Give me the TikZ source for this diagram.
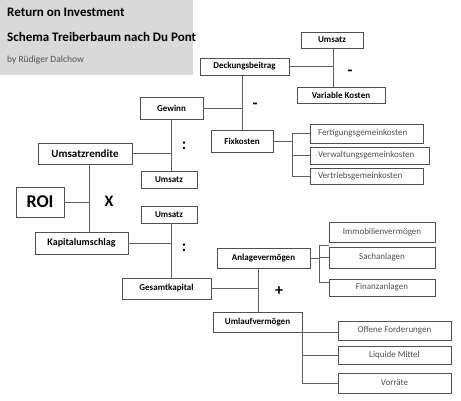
\documentclass[tikz,border=0pt]{standalone}
\usepackage{fontspec}
\setmainfont{Carlito}
\definecolor{boxline}{HTML}{505050}
\definecolor{conn}{HTML}{606060}
\definecolor{leaftext}{HTML}{505050}
\definecolor{titlebg}{HTML}{D9D9D9}
\begin{document}
\begin{tikzpicture}[x=1pt,y=-1pt,
  box/.style={draw=boxline,line width=0.7pt,fill=white,inner sep=0pt,font=\bfseries\fontsize{9}{10}\selectfont},
  bigbox/.style={box,font=\bfseries\fontsize{11}{13}\selectfont},
  leaf/.style={draw=boxline,line width=0.7pt,fill=white,inner sep=0pt,text=leaftext,font=\fontsize{9}{10}\selectfont},
  leafl/.style={leaf,inner xsep=8pt,align=left},
  op/.style={font=\bfseries\fontsize{16}{16}\selectfont,inner sep=0pt},
  con/.style={draw=conn,line width=0.7pt}]
\useasboundingbox (0,0) rectangle (461,400);
\fill[titlebg] (0,0) rectangle (193,75);
\node[anchor=west,font=\bfseries\fontsize{13}{15}\selectfont,inner sep=0pt] (t1) at (7,12) {Return on Investment};
\node[anchor=west,font=\bfseries\fontsize{13}{15}\selectfont,inner sep=0pt] (t2) at (7,37) {Schema Treiberbaum nach Du Pont};
\node[anchor=west,font=\fontsize{9.5}{11}\selectfont,text=leaftext,inner sep=0pt] (t3) at (7,60) {by Rüdiger Dalchow};
% main boxes
\node[box,minimum width=62pt,minimum height=16pt] (ums1) at (332,40) {Umsatz};
\node[box,minimum width=89pt,minimum height=17pt] (deck) at (244.5,66.5) {Deckungsbeitrag};
\node[box,minimum width=88pt,minimum height=16pt] (vark) at (341,95) {Variable Kosten};
\node[box,minimum width=63pt,minimum height=22pt] (gew) at (171.5,108) {Gewinn};
\node[box,minimum width=62pt,minimum height=22pt] (fix) at (242,141) {Fixkosten};
\node[leafl,text width=97pt,minimum height=19pt] (fert) at (366.5,133.5) {Fertigungsgemeinkosten};
\node[leafl,text width=103pt,minimum height=17pt] (verw) at (369.5,155.5) {Verwaltungsgemeinkosten};
\node[leafl,text width=97pt,minimum height=16pt] (vertr) at (366.5,176) {Vertriebsgemeinkosten};
\node[bigbox,minimum width=94pt,minimum height=21pt] (urend) at (85,153.5) {Umsatzrendite};
\node[box,minimum width=56pt,minimum height=17pt] (ums2) at (169,179.5) {Umsatz};
\node[draw=boxline,line width=0.7pt,fill=white,inner sep=0pt,font=\bfseries\fontsize{18}{20}\selectfont,minimum width=48pt,minimum height=30pt] (roi) at (40,202) {ROI};
\node[box,minimum width=56pt,minimum height=17pt] (ums3) at (169,214.5) {Umsatz};
\node[box,font=\bfseries\fontsize{10}{12}\selectfont,minimum width=93pt,minimum height=22pt] (kapu) at (81.5,243) {Kapitalumschlag};
\node[leaf,minimum width=106pt,minimum height=20pt] (imm) at (382,232) {Immobilienvermögen};
\node[leaf,minimum width=106pt,minimum height=21pt] (sach) at (382,257.5) {Sachanlagen};
\node[box,minimum width=93pt,minimum height=20pt] (anlv) at (263.5,258) {Anlagevermögen};
\node[leaf,minimum width=106pt,minimum height=17pt] (fin) at (382,287.5) {Finanzanlagen};
\node[box,minimum width=89pt,minimum height=21pt] (gesk) at (166.5,288.5) {Gesamtkapital};
\node[box,minimum width=89pt,minimum height=20pt] (umlv) at (257.5,322) {Umlaufvermögen};
\node[leaf,minimum width=113pt,minimum height=19pt] (off) at (394.5,330.5) {Offene Forderungen};
\node[leaf,minimum width=113pt,minimum height=18pt] (liq) at (394.5,355) {Liquide Mittel};
\node[leaf,minimum width=113pt,minimum height=20pt] (vor) at (394.5,383) {Vorräte};
% operators
\node[op] (o1) at (350,73) {-};
\node[op] (o2) at (255,106) {-};
\node[op] (o3) at (184,146) {:};
\node[op] (o4) at (109,201) {X};
\node[op] (o5) at (184,248) {:};
\node[op] (o6) at (279,291) {+};
% junction coordinates
\coordinate (vA) at (333,0);
\coordinate (vB) at (242,0);
\coordinate (vC) at (292,0);
\coordinate (vD) at (171,0);
\coordinate (vE) at (89,0);
\coordinate (vF) at (258,0);
\coordinate (vG) at (319,0);
\coordinate (bt) at (319,245);
\coordinate (bb) at (319,282);
% connectors
\draw[con] (ums1.south -| vA) -- (vark.north -| vA);
\draw[con] (deck.east) -- (deck.east -| vA);
\draw[con] (deck.south -| vB) -- (fix.north -| vB);
\draw[con] (gew.east) -- (gew.east -| vB);
\draw[con] (fix.east) -- (fix.east -| vC);
\draw[con] (fert.west -| vC) -- (vertr.west -| vC);
\draw[con] (fert.west -| vC) -- (fert.west);
\draw[con] (verw.west -| vC) -- (verw.west);
\draw[con] (vertr.west -| vC) -- (vertr.west);
\draw[con] (gew.south -| vD) -- (ums2.north -| vD);
\draw[con] (urend.east) -- (urend.east -| vD);
\draw[con] (urend.south -| vE) -- (kapu.north -| vE);
\draw[con] (roi.east) -- (roi.east -| vE);
\draw[con] (ums3.south -| vD) -- (gesk.north -| vD);
\draw[con] (kapu.east) -- (kapu.east -| vD);
\draw[con] (anlv.south -| vF) -- (umlv.north -| vF);
\draw[con] (gesk.east) -- (gesk.east -| vF);
\draw[con] (anlv.east) -- (anlv.east -| vG);
\draw[con] (bt) -- (bb);
\draw[con] (bt) -- (bt -| imm.west);
\draw[con] (sach.west -| vG) -- (sach.west);
\draw[con] (bb) -- (bb -| fin.west);
\draw[con] (umlv.south east) -- (umlv.south east |- vor.west);
\draw[con] (umlv.south east) -- (umlv.south east -| off.west);
\draw[con] (liq.west -| umlv.south east) -- (liq.west);
\draw[con] (vor.west -| umlv.south east) -- (vor.west);
\end{tikzpicture}
\end{document}
